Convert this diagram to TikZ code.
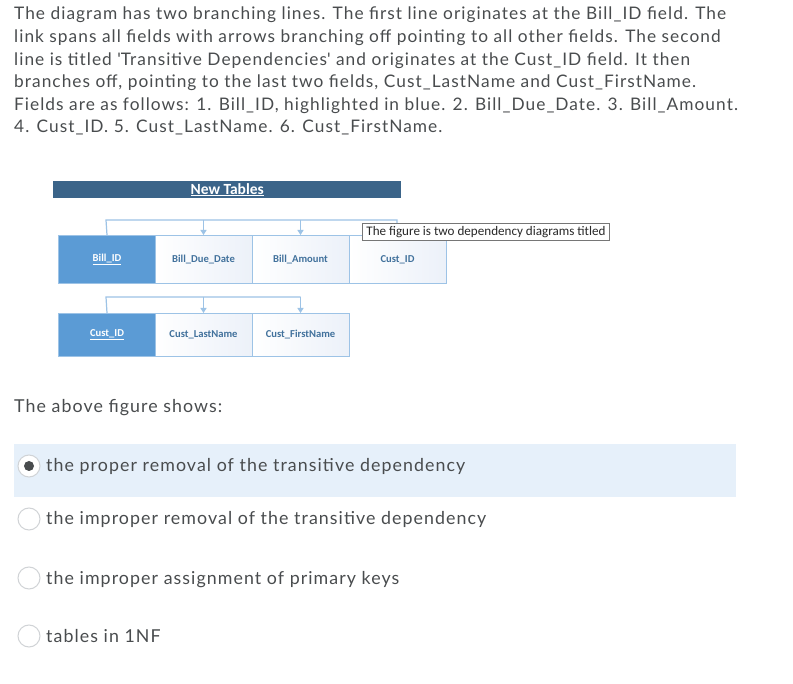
\documentclass[tikz,border=0pt]{standalone}
\usepackage{fontspec}
\setmainfont{Lato}[LetterSpace=6]
\newfontfamily\calib{Carlito}
\usetikzlibrary{arrows.meta}
\definecolor{txt}{HTML}{494C4E}
\definecolor{barblue}{HTML}{3B6489}
\definecolor{keyblue}{HTML}{5B9BD5}
\definecolor{boxline}{HTML}{9DC3E6}
\definecolor{boxtxt}{HTML}{41719C}
\definecolor{band}{HTML}{E6F0FA}
\definecolor{radioline}{HTML}{D0D3D6}
\tikzset{
  para/.style={anchor=base west, inner sep=0pt, text=txt, font=\fontsize{17.3}{19}\selectfont},
  fieldshade/.style={draw=boxline, line width=1pt, minimum width=97pt, minimum height=48pt, inner sep=0pt,
     shading=axis, left color=white, right color={rgb,255:red,236;green,241;blue,249},
     font=\calib\bfseries\fontsize{10.6}{12}\selectfont, text=boxtxt},
  keyfield/.style={draw=boxline, line width=1pt, fill=keyblue, minimum width=97pt, minimum height=48pt, inner sep=0pt,
     font=\calib\bfseries\fontsize{10.6}{12}\selectfont, text=white},
  conn/.style={draw=boxline, line width=1.2pt},
  arr/.style={conn, -{Triangle[length=5pt,width=6pt]}},
  radio/.style={circle, draw=radioline, line width=1pt, fill=white, minimum size=22pt, inner sep=0pt},
  opt/.style={anchor=base west, inner sep=0pt, text=txt, font=\fontsize{17.8}{19}\selectfont},
}
\begin{document}
\begin{tikzpicture}[x=1pt,y=-1pt]
\useasboundingbox (0,0) rectangle (793,684);
\fill[white] (0,0) rectangle (793,684);
% paragraph
\node[para] (p1) at (14,20) {The diagram has two branching lines. The first line originates at the Bill\_ID field. The};
\node[para] (p2) at (14,42.6) {link spans all fields with arrows branching off pointing to all other fields. The second};
\node[para] (p3) at (14,65.2) {line is titled \textquotesingle Transitive Dependencies\textquotesingle{} and originates at the Cust\_ID field. It then};
\node[para] (p4) at (14,87.8) {branches off, pointing to the last two fields, Cust\_LastName and Cust\_FirstName.};
\node[para] (p5) at (14,110.4) {Fields are as follows: 1. Bill\_ID, highlighted in blue. 2. Bill\_Due\_Date. 3. Bill\_Amount.};
\node[para] (p6) at (14,133) {4. Cust\_ID. 5. Cust\_LastName. 6. Cust\_FirstName.};
% title bar
\node[fill=barblue, minimum width=348pt, minimum height=17pt, inner sep=0pt, anchor=north west,
  text=white, font=\calib\bfseries\fontsize{15.5}{16}\selectfont] (title) at (53,181) {\underline{New Tables}};
% row 1
\node[keyfield, anchor=north west] (b1) at (58,235) {\underline{Bill\_ID}};
\node[fieldshade, anchor=north west] (b2) at (154.5,235) {Bill\_Due\_Date};
\node[fieldshade, anchor=north west] (b3) at (251.5,235) {Bill\_Amount};
\node[fieldshade, anchor=north west] (b4) at (348.5,235) {Cust\_ID};
\coordinate (t1) at (106,220);
\draw[conn] (b1.north) -- (t1) -- (397,220) -- (b4.north);
\draw[arr] (b2.north |- t1) -- (b2.north);
\draw[arr] (b3.north |- t1) -- (b3.north);
% tooltip
\node[draw={rgb,255:red,118;green,118;blue,118}, fill=white, line width=0.8pt, anchor=north west, inner xsep=4pt, inner ysep=0pt,
  minimum height=17pt, text={rgb,255:red,40;green,40;blue,40}, font=\calib\fontsize{13.1}{14}\selectfont] (tip) at (362,223) {The figure is two dependency diagrams titled};
% row 2
\node[keyfield, anchor=north west, minimum height=43pt] (c1) at (58,313) {\underline{Cust\_ID}};
\node[fieldshade, anchor=north west, minimum height=43pt] (c2) at (154.5,313) {Cust\_LastName};
\node[fieldshade, anchor=north west, minimum height=43pt] (c3) at (251.5,313) {Cust\_FirstName};
\coordinate (t2) at (106,297);
\draw[conn] (c1.north) -- (t2) -- (c3.north |- t2);
\draw[arr] (c2.north |- t2) -- (c2.north);
\draw[arr] (c3.north |- t2) -- (c3.north);
% question
\node[opt] (q) at (14,413) {The above figure shows:};
\fill[band] (14,444) rectangle (736,497);
\node[radio] (r1) at (29,466) {};
\fill[txt] (r1.center) circle (5pt);
\node[opt] (o1) at (46,472) {the proper removal of the transitive dependency};
\node[radio] (r2) at (29,519) {};
\node[opt] (o2) at (46,525) {the improper removal of the transitive dependency};
\node[radio] (r3) at (29,578) {};
\node[opt] (o3) at (46,584) {the improper assignment of primary keys};
\node[radio] (r4) at (29,636) {};
\node[opt] (o4) at (46,642) {tables in 1NF};
\end{tikzpicture}
\end{document}
